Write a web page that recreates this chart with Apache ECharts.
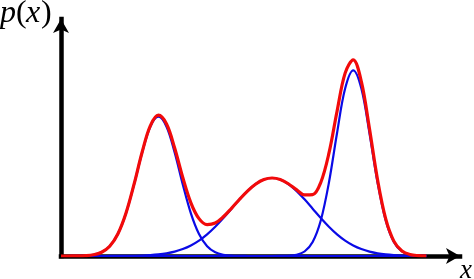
<!DOCTYPE html>
<html>
<head>
<meta charset="utf-8">
<script src="https://cdn.jsdelivr.net/npm/echarts@6/dist/echarts.min.js"></script>
<style>
html,body{margin:0;padding:0;background:#fff;}
#chart{width:474px;height:279px;}
</style>
</head>
<body>
<div id="chart"></div>
<script>
// Sample positions along x (arbitrary units)
const xs = [0.0,0.2,0.4,0.6,0.8,1.0,1.2,1.4,1.6,1.8,2.0,2.2,2.4,2.6,2.8,3.0,3.2,3.4,3.6,3.8,4.0,4.2,4.4,4.6,4.8,5.0,5.2,5.4,5.6,5.8,6.0,6.2,6.4,6.6,6.8,7.0,7.2,7.4,7.6,7.8,8.0,8.2,8.4,8.6,8.8,9.0];
// Component 1 (left narrow peak)
const comp1 = [0,0.0002,0.0009,0.0035,0.0124,0.0376,0.0984,0.2219,0.4318,0.7246,1.0489,1.3095,1.41,1.3095,1.0489,0.7246,0.4318,0.2219,0.0984,0.0376,0.0124,0.0035,0.0009,0.0002,0,0,0,0,0,0,0,0,0,0,0,0,0,0,0,0,0,0,0,0,0,0];
// Component 2 (middle broad peak)
const comp2 = [0,0,0,0,0,0.0001,0.0003,0.0006,0.0012,0.0024,0.0047,0.0088,0.0157,0.0269,0.0443,0.0702,0.1069,0.1563,0.2196,0.2965,0.3846,0.4792,0.5736,0.6599,0.7293,0.7744,0.79,0.7744,0.7293,0.6599,0.5736,0.4792,0.3846,0.2965,0.2196,0.1563,0.1069,0.0702,0.0443,0.0269,0.0157,0.0088,0.0047,0.0024,0.0012,0.0006];
// Component 3 (right tall peak)
const comp3 = [0,0,0,0,0,0,0,0,0,0,0,0,0,0,0,0,0,0,0,0,0,0,0,0,0,0,0,0.0004,0.0025,0.0119,0.0456,0.1421,0.36,0.7418,1.2436,1.6956,1.88,1.6956,1.2436,0.7418,0.36,0.1421,0.0456,0.0119,0.0025,0.0004];
// Mixture p(x)
const mixture = [0,0.0002,0.0009,0.0035,0.0124,0.0377,0.0987,0.2225,0.4330,0.7270,1.0536,1.3183,1.4257,1.3364,1.0932,0.7948,0.5387,0.3782,0.3180,0.3341,0.3970,0.4827,0.5745,0.6601,0.7293,0.7744,0.79,0.7748,0.7318,0.6718,0.6192,0.6213,0.7446,1.0383,1.4632,1.8519,1.9869,1.7658,1.2879,0.7687,0.3757,0.1509,0.0503,0.0143,0.0037,0.0010];

const pairs = arr => xs.map((x, i) => [x, arr[i]]);
const chart = echarts.init(document.getElementById('chart'), null, {renderer: 'canvas'});
const blue = '#0a0ae6';
const red = '#f20a0a';
const blueLine = (name, arr) => ({
  name, type: 'line', data: pairs(arr), showSymbol: false, smooth: 0.35, z: 2,
  lineStyle: {color: blue, width: 2.2}, animation: false
});
const axisLineStyle = {color: '#000', width: 4.5, cap: 'square'};
const glyph = (t, left, italic) => ({
  type: 'text', left, top: -2, z: 100,
  style: {text: t, fontFamily: 'Liberation Serif', fontStyle: italic ? 'italic' : 'normal', fontSize: 32, fill: '#000'}
});
chart.setOption({
  animation: false,
  backgroundColor: '#fff',
  grid: {left: 61, right: 14, top: 19, bottom: 23},
  xAxis: {
    type: 'value', min: 0, max: 9.83,
    axisLine: {show: true, onZero: false, lineStyle: axisLineStyle, symbol: ['none', 'arrow'], symbolSize: [12, 14]},
    axisTick: {show: false}, axisLabel: {show: false}, splitLine: {show: false}
  },
  yAxis: {
    type: 'value', min: 0, max: 2.4,
    axisLine: {show: true, onZero: false, lineStyle: axisLineStyle, symbol: ['none', 'arrow'], symbolSize: [12, 14]},
    axisTick: {show: false}, axisLabel: {show: false}, splitLine: {show: false}
  },
  graphic: [
    glyph('p', 0, true),
    glyph('(', 16, false),
    glyph('x', 26, true),
    glyph(')', 41, false),
    {type: 'text', left: 460, top: 257, z: 100, style: {
      text: 'x', fontFamily: 'Liberation Serif', fontStyle: 'italic', fontSize: 27, fill: '#000'
    }}
  ],
  series: [
    blueLine('comp1', comp1),
    blueLine('comp2', comp2),
    blueLine('comp3', comp3),
    {name: 'mixture', type: 'line', data: pairs(mixture), showSymbol: false, smooth: 0.35, z: 3,
     lineStyle: {color: red, width: 3.2}, animation: false}
  ]
});
</script>
</body>
</html>
